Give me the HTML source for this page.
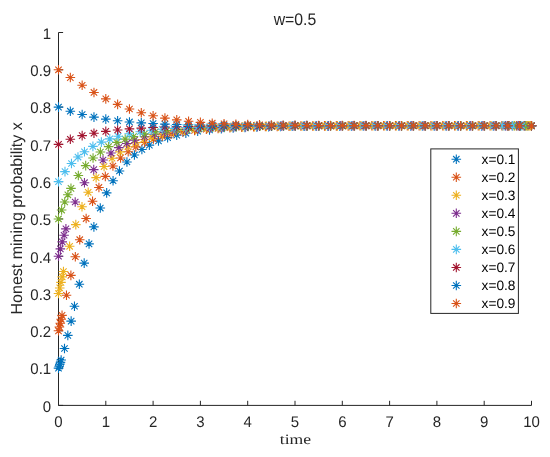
<!DOCTYPE html><html><head><meta charset="utf-8"><title>w=0.5</title><style>html,body{margin:0;padding:0;background:#fff;overflow:hidden}svg{display:block}</style></head><body><svg width="550" height="457" viewBox="0 0 550 457" style="text-rendering:geometricPrecision"><g><rect width="550" height="457" fill="#fff"/><path d="M58.5 32.5V405.4H531.5" stroke="#262626" stroke-width="1" fill="none"/><path d="M58.50 405.4V400.80M58.5 405.40H63.10M105.80 405.4V400.80M58.5 368.11H63.10M153.10 405.4V400.80M58.5 330.82H63.10M200.40 405.4V400.80M58.5 293.53H63.10M247.70 405.4V400.80M58.5 256.24H63.10M295.00 405.4V400.80M58.5 218.95H63.10M342.30 405.4V400.80M58.5 181.66H63.10M389.60 405.4V400.80M58.5 144.37H63.10M436.90 405.4V400.80M58.5 107.08H63.10M484.20 405.4V400.80M58.5 69.79H63.10M531.50 405.4V400.80M58.5 32.50H63.10" stroke="#262626" stroke-width="1" fill="none"/><g fill="none" stroke-width="1.1"><path d="M53.70 368.11H63.30M58.50 363.31V372.91M55.30 364.91L61.70 371.31M55.30 371.31L61.70 364.91M54.37 366.20H63.97M59.17 361.40V371.00M55.97 363.00L62.37 369.40M55.97 369.40L62.37 363.00M55.03 364.22H64.63M59.83 359.42V369.02M56.63 361.02L63.03 367.42M56.63 367.42L63.03 361.02M55.70 362.18H65.30M60.50 357.38V366.98M57.30 358.98L63.70 365.38M57.30 365.38L63.70 358.98M56.36 360.06H65.96M61.16 355.26V364.86M57.96 356.86L64.36 363.26M57.96 363.26L64.36 356.86M59.69 348.49H69.29M64.49 343.69V353.29M61.29 345.29L67.69 351.69M61.29 351.69L67.69 345.29M63.02 335.41H72.62M67.82 330.61V340.21M64.62 332.21L71.02 338.61M64.62 338.61L71.02 332.21M66.35 321.17H75.95M71.15 316.37V325.97M67.95 317.97L74.35 324.37M67.95 324.37L74.35 317.97M69.68 306.22H79.28M74.48 301.42V311.02M71.28 303.02L77.68 309.42M71.28 309.42L77.68 303.02M74.53 284.20H84.13M79.33 279.40V289.00M76.13 281.00L82.53 287.40M76.13 287.40L82.53 281.00M79.39 263.10H88.99M84.19 258.30V267.90M80.99 259.90L87.39 266.30M80.99 266.30L87.39 259.90M84.24 243.84H93.84M89.04 239.04V248.64M85.84 240.64L92.24 247.04M85.84 247.04L92.24 240.64M89.09 226.86H98.69M93.89 222.06V231.66M90.69 223.66L97.09 230.06M90.69 230.06L97.09 223.66M95.48 208.04H105.08M100.28 203.24V212.84M97.08 204.84L103.48 211.24M97.08 211.24L103.48 204.84M101.87 192.85H111.47M106.67 188.05V197.65M103.47 189.65L109.87 196.05M103.47 196.05L109.87 189.65M108.26 180.72H117.86M113.06 175.92V185.52M109.86 177.52L116.26 183.92M109.86 183.92L116.26 177.52M114.65 171.02H124.25M119.45 166.22V175.82M116.25 167.82L122.65 174.22M116.25 174.22L122.65 167.82M122.13 161.98H131.73M126.93 157.18V166.78M123.73 158.78L130.13 165.18M123.73 165.18L130.13 158.78M129.60 154.94H139.20M134.40 150.14V159.74M131.20 151.74L137.60 158.14M131.20 158.14L137.60 151.74M137.08 149.46H146.68M141.88 144.66V154.26M138.68 146.26L145.08 152.66M138.68 152.66L145.08 146.26M144.56 145.10H154.16M149.36 140.30V149.90M146.16 141.90L152.56 148.30M146.16 148.30L152.56 141.90M153.69 140.87H163.29M158.49 136.07V145.67M155.29 137.67L161.69 144.07M155.29 144.07L161.69 137.67M162.81 137.63H172.41M167.61 132.83V142.43M164.41 134.43L170.81 140.83M164.41 140.83L170.81 134.43M171.93 135.15H181.53M176.73 130.35V139.95M173.53 131.95L179.93 138.35M173.53 138.35L179.93 131.95M181.06 133.21H190.66M185.86 128.41V138.01M182.66 130.01L189.06 136.41M182.66 136.41L189.06 130.01M192.88 131.26H202.48M197.68 126.46V136.06M194.48 128.06L200.88 134.46M194.48 134.46L200.88 128.06M204.71 129.84H214.31M209.51 125.04V134.64M206.31 126.64L212.71 133.04M206.31 133.04L212.71 126.64M216.53 128.81H226.13M221.33 124.01V133.61M218.13 125.61L224.53 132.01M218.13 132.01L224.53 125.61M228.36 128.05H237.96M233.16 123.25V132.85M229.96 124.85L236.36 131.25M229.96 131.25L236.36 124.85M240.18 127.46H249.78M244.98 122.66V132.26M241.78 124.26L248.18 130.66M241.78 130.66L248.18 124.26M252.01 127.02H261.61M256.81 122.22V131.82M253.61 123.82L260.01 130.22M253.61 130.22L260.01 123.82M263.83 126.70H273.43M268.63 121.90V131.50M265.43 123.50L271.83 129.90M265.43 129.90L271.83 123.50M275.66 126.46H285.26M280.46 121.66V131.26M277.26 123.26L283.66 129.66M277.26 129.66L283.66 123.26M287.48 126.28H297.08M292.28 121.48V131.08M289.08 123.08L295.48 129.48M289.08 129.48L295.48 123.08M299.31 126.14H308.91M304.11 121.34V130.94M300.91 122.94L307.31 129.34M300.91 129.34L307.31 122.94M311.13 126.04H320.73M315.93 121.24V130.84M312.73 122.84L319.13 129.24M312.73 129.24L319.13 122.84M322.96 125.96H332.56M327.76 121.16V130.76M324.56 122.76L330.96 129.16M324.56 129.16L330.96 122.76M334.78 125.90H344.38M339.58 121.10V130.70M336.38 122.70L342.78 129.10M336.38 129.10L342.78 122.70M346.61 125.86H356.21M351.41 121.06V130.66M348.21 122.66L354.61 129.06M348.21 129.06L354.61 122.66M358.43 125.82H368.03M363.23 121.02V130.62M360.03 122.62L366.43 129.02M360.03 129.02L366.43 122.62M370.26 125.80H379.86M375.06 121.00V130.60M371.86 122.60L378.26 129.00M371.86 129.00L378.26 122.60M382.08 125.78H391.68M386.88 120.98V130.58M383.68 122.58L390.08 128.98M383.68 128.98L390.08 122.58M393.91 125.77H403.51M398.71 120.97V130.57M395.51 122.57L401.91 128.97M395.51 128.97L401.91 122.57M405.73 125.76H415.33M410.53 120.96V130.56M407.33 122.56L413.73 128.96M407.33 128.96L413.73 122.56M417.56 125.75H427.16M422.36 120.95V130.55M419.16 122.55L425.56 128.95M419.16 128.95L425.56 122.55M429.38 125.74H438.98M434.18 120.94V130.54M430.98 122.54L437.38 128.94M430.98 128.94L437.38 122.54M441.21 125.74H450.81M446.01 120.94V130.54M442.81 122.54L449.21 128.94M442.81 128.94L449.21 122.54M453.03 125.74H462.63M457.83 120.94V130.54M454.63 122.54L461.03 128.94M454.63 128.94L461.03 122.54M464.86 125.73H474.46M469.66 120.93V130.53M466.46 122.53L472.86 128.93M466.46 128.93L472.86 122.53M476.68 125.73H486.28M481.48 120.93V130.53M478.28 122.53L484.68 128.93M478.28 128.93L484.68 122.53M488.51 125.73H498.11M493.31 120.93V130.53M490.11 122.53L496.51 128.93M490.11 128.93L496.51 122.53M500.33 125.73H509.93M505.13 120.93V130.53M501.93 122.53L508.33 128.93M501.93 128.93L508.33 122.53M512.16 125.73H521.76M516.96 120.93V130.53M513.76 122.53L520.16 128.93M513.76 128.93L520.16 122.53M515.79 125.73H525.39M520.59 120.93V130.53M517.39 122.53L523.79 128.93M517.39 128.93L523.79 122.53M519.43 125.73H529.03M524.23 120.93V130.53M521.03 122.53L527.43 128.93M521.03 128.93L527.43 122.53M523.06 125.73H532.66M527.86 120.93V130.53M524.66 122.53L531.06 128.93M524.66 128.93L531.06 122.53M526.70 125.73H536.30M531.50 120.93V130.53M528.30 122.53L534.70 128.93M528.30 128.93L534.70 122.53" stroke="#0072BD"/><path d="M53.70 330.82H63.30M58.50 326.02V335.62M55.30 327.62L61.70 334.02M55.30 334.02L61.70 327.62M54.59 327.04H64.19M59.39 322.24V331.84M56.19 323.84L62.59 330.24M56.19 330.24L62.59 323.84M55.47 323.19H65.07M60.27 318.39V327.99M57.07 319.99L63.47 326.39M57.07 326.39L63.47 319.99M56.36 319.29H65.96M61.16 314.49V324.09M57.96 316.09L64.36 322.49M57.96 322.49L64.36 316.09M57.24 315.35H66.84M62.04 310.55V320.15M58.84 312.15L65.24 318.55M58.84 318.55L65.24 312.15M61.67 295.26H71.27M66.47 290.46V300.06M63.27 292.06L69.67 298.46M63.27 298.46L69.67 292.06M66.09 275.41H75.69M70.89 270.61V280.21M67.69 272.21L74.09 278.61M67.69 278.61L74.09 272.21M70.52 256.70H80.12M75.32 251.90V261.50M72.12 253.50L78.52 259.90M72.12 259.90L78.52 253.50M74.95 239.69H84.55M79.75 234.89V244.49M76.55 236.49L82.95 242.89M76.55 242.89L82.95 236.49M81.34 218.54H90.94M86.14 213.74V223.34M82.94 215.34L89.34 221.74M82.94 221.74L89.34 215.34M87.73 201.29H97.33M92.53 196.49V206.09M89.33 198.09L95.73 204.49M89.33 204.49L95.73 198.09M94.12 187.45H103.72M98.92 182.65V192.25M95.72 184.25L102.12 190.65M95.72 190.65L102.12 184.25M100.51 176.41H110.11M105.31 171.61V181.21M102.11 173.21L108.51 179.61M102.11 179.61L108.51 173.21M108.13 165.98H117.73M112.93 161.18V170.78M109.73 162.78L116.13 169.18M109.73 169.18L116.13 162.78M115.76 157.93H125.36M120.56 153.13V162.73M117.36 154.73L123.76 161.13M117.36 161.13L123.76 154.73M123.38 151.74H132.98M128.18 146.94V156.54M124.98 148.54L131.38 154.94M124.98 154.94L131.38 148.54M131.01 146.86H140.61M135.81 142.06V151.66M132.61 143.66L139.01 150.06M132.61 150.06L139.01 143.66M139.83 142.34H149.43M144.63 137.54V147.14M141.43 139.14L147.83 145.54M141.43 145.54L147.83 139.14M148.65 138.87H158.25M153.45 134.07V143.67M150.25 135.67L156.65 142.07M150.25 142.07L156.65 135.67M157.47 136.19H167.07M162.27 131.39V140.99M159.07 132.99L165.47 139.39M159.07 139.39L165.47 132.99M166.29 134.09H175.89M171.09 129.29V138.89M167.89 130.89L174.29 137.29M167.89 137.29L174.29 130.89M178.04 131.92H187.64M182.84 127.12V136.72M179.64 128.72L186.04 135.12M179.64 135.12L186.04 128.72M189.78 130.33H199.38M194.58 125.53V135.13M191.38 127.13L197.78 133.53M191.38 133.53L197.78 127.13M201.52 129.19H211.12M206.32 124.39V133.99M203.12 125.99L209.52 132.39M203.12 132.39L209.52 125.99M213.26 128.34H222.86M218.06 123.54V133.14M214.86 125.14L221.26 131.54M214.86 131.54L221.26 125.14M225.09 127.68H234.69M229.89 122.88V132.48M226.69 124.48L233.09 130.88M226.69 130.88L233.09 124.48M236.91 127.18H246.51M241.71 122.38V131.98M238.51 123.98L244.91 130.38M238.51 130.38L244.91 123.98M248.74 126.82H258.34M253.54 122.02V131.62M250.34 123.62L256.74 130.02M250.34 130.02L256.74 123.62M260.56 126.55H270.16M265.36 121.75V131.35M262.16 123.35L268.56 129.75M262.16 129.75L268.56 123.35M272.39 126.34H281.99M277.19 121.54V131.14M273.99 123.14L280.39 129.54M273.99 129.54L280.39 123.14M284.21 126.19H293.81M289.01 121.39V130.99M285.81 122.99L292.21 129.39M285.81 129.39L292.21 122.99M296.04 126.07H305.64M300.84 121.27V130.87M297.64 122.87L304.04 129.27M297.64 129.27L304.04 122.87M307.86 125.99H317.46M312.66 121.19V130.79M309.46 122.79L315.86 129.19M309.46 129.19L315.86 122.79M319.69 125.92H329.29M324.49 121.12V130.72M321.29 122.72L327.69 129.12M321.29 129.12L327.69 122.72M331.51 125.87H341.11M336.31 121.07V130.67M333.11 122.67L339.51 129.07M333.11 129.07L339.51 122.67M343.34 125.84H352.94M348.14 121.04V130.64M344.94 122.64L351.34 129.04M344.94 129.04L351.34 122.64M355.16 125.81H364.76M359.96 121.01V130.61M356.76 122.61L363.16 129.01M356.76 129.01L363.16 122.61M366.99 125.79H376.59M371.79 120.99V130.59M368.59 122.59L374.99 128.99M368.59 128.99L374.99 122.59M378.81 125.77H388.41M383.61 120.97V130.57M380.41 122.57L386.81 128.97M380.41 128.97L386.81 122.57M390.64 125.76H400.24M395.44 120.96V130.56M392.24 122.56L398.64 128.96M392.24 128.96L398.64 122.56M402.46 125.75H412.06M407.26 120.95V130.55M404.06 122.55L410.46 128.95M404.06 128.95L410.46 122.55M414.29 125.75H423.89M419.09 120.95V130.55M415.89 122.55L422.29 128.95M415.89 128.95L422.29 122.55M426.11 125.74H435.71M430.91 120.94V130.54M427.71 122.54L434.11 128.94M427.71 128.94L434.11 122.54M437.94 125.74H447.54M442.74 120.94V130.54M439.54 122.54L445.94 128.94M439.54 128.94L445.94 122.54M449.76 125.73H459.36M454.56 120.93V130.53M451.36 122.53L457.76 128.93M451.36 128.93L457.76 122.53M461.59 125.73H471.19M466.39 120.93V130.53M463.19 122.53L469.59 128.93M463.19 128.93L469.59 122.53M473.41 125.73H483.01M478.21 120.93V130.53M475.01 122.53L481.41 128.93M475.01 128.93L481.41 122.53M485.24 125.73H494.84M490.04 120.93V130.53M486.84 122.53L493.24 128.93M486.84 128.93L493.24 122.53M497.06 125.73H506.66M501.86 120.93V130.53M498.66 122.53L505.06 128.93M498.66 128.93L505.06 122.53M504.47 125.73H514.07M509.27 120.93V130.53M506.07 122.53L512.47 128.93M506.07 128.93L512.47 122.53M511.88 125.73H521.48M516.68 120.93V130.53M513.48 122.53L519.88 128.93M513.48 128.93L519.88 122.53M519.29 125.73H528.89M524.09 120.93V130.53M520.89 122.53L527.29 128.93M520.89 128.93L527.29 122.53M526.70 125.73H536.30M531.50 120.93V130.53M528.30 122.53L534.70 128.93M528.30 128.93L534.70 122.53" stroke="#D95319"/><path d="M53.70 293.53H63.30M58.50 288.73V298.33M55.30 290.33L61.70 296.73M55.30 296.73L61.70 290.33M54.94 287.93H64.54M59.74 283.13V292.73M56.54 284.73L62.94 291.13M56.54 291.13L62.94 284.73M56.17 282.37H65.77M60.97 277.57V287.17M57.77 279.17L64.17 285.57M57.77 285.57L64.17 279.17M57.41 276.89H67.01M62.21 272.09V281.69M59.01 273.69L65.41 280.09M59.01 280.09L65.41 273.69M58.65 271.49H68.25M63.45 266.69V276.29M60.25 268.29L66.65 274.69M60.25 274.69L66.65 268.29M64.83 246.30H74.43M69.63 241.50V251.10M66.43 243.10L72.83 249.50M66.43 249.50L72.83 243.10M71.01 224.65H80.61M75.81 219.85V229.45M72.61 221.45L79.01 227.85M72.61 227.85L79.01 221.45M77.20 206.76H86.80M82.00 201.96V211.56M78.80 203.56L85.20 209.96M78.80 209.96L85.20 203.56M83.38 192.29H92.98M88.18 187.49V197.09M84.98 189.09L91.38 195.49M84.98 195.49L91.38 189.09M91.32 177.63H100.92M96.12 172.83V182.43M92.92 174.43L99.32 180.83M92.92 180.83L99.32 174.43M99.26 166.56H108.86M104.06 161.76V171.36M100.86 163.36L107.26 169.76M100.86 169.76L107.26 163.36M107.20 158.28H116.80M112.00 153.48V163.08M108.80 155.08L115.20 161.48M108.80 161.48L115.20 155.08M115.14 151.87H124.74M119.94 147.07V156.67M116.74 148.67L123.14 155.07M116.74 155.07L123.14 148.67M123.09 146.69H132.69M127.89 141.89V151.49M124.69 143.49L131.09 149.89M124.69 149.89L131.09 143.49M131.03 142.62H140.63M135.83 137.82V147.42M132.63 139.42L139.03 145.82M132.63 145.82L139.03 139.42M138.97 139.43H148.57M143.77 134.63V144.23M140.57 136.23L146.97 142.63M140.57 142.63L146.97 136.23M146.91 136.87H156.51M151.71 132.07V141.67M148.51 133.67L154.91 140.07M148.51 140.07L154.91 133.67M157.86 134.11H167.46M162.66 129.31V138.91M159.46 130.91L165.86 137.31M159.46 137.31L165.86 130.91M168.81 132.07H178.41M173.61 127.27V136.87M170.41 128.87L176.81 135.27M170.41 135.27L176.81 128.87M179.76 130.57H189.36M184.56 125.77V135.37M181.36 127.37L187.76 133.77M181.36 133.77L187.76 127.37M190.71 129.44H200.31M195.51 124.64V134.24M192.31 126.24L198.71 132.64M192.31 132.64L198.71 126.24M202.54 128.49H212.14M207.34 123.69V133.29M204.14 125.29L210.54 131.69M204.14 131.69L210.54 125.29M214.36 127.79H223.96M219.16 122.99V132.59M215.96 124.59L222.36 130.99M215.96 130.99L222.36 124.59M226.19 127.28H235.79M230.99 122.48V132.08M227.79 124.08L234.19 130.48M227.79 130.48L234.19 124.08M238.01 126.90H247.61M242.81 122.10V131.70M239.61 123.70L246.01 130.10M239.61 130.10L246.01 123.70M249.84 126.60H259.44M254.64 121.80V131.40M251.44 123.40L257.84 129.80M251.44 129.80L257.84 123.40M261.66 126.38H271.26M266.46 121.58V131.18M263.26 123.18L269.66 129.58M263.26 129.58L269.66 123.18M273.49 126.22H283.09M278.29 121.42V131.02M275.09 123.02L281.49 129.42M275.09 129.42L281.49 123.02M285.31 126.10H294.91M290.11 121.30V130.90M286.91 122.90L293.31 129.30M286.91 129.30L293.31 122.90M297.14 126.00H306.74M301.94 121.20V130.80M298.74 122.80L305.14 129.20M298.74 129.20L305.14 122.80M308.96 125.93H318.56M313.76 121.13V130.73M310.56 122.73L316.96 129.13M310.56 129.13L316.96 122.73M320.79 125.88H330.39M325.59 121.08V130.68M322.39 122.68L328.79 129.08M322.39 129.08L328.79 122.68M332.61 125.84H342.21M337.41 121.04V130.64M334.21 122.64L340.61 129.04M334.21 129.04L340.61 122.64M344.44 125.81H354.04M349.24 121.01V130.61M346.04 122.61L352.44 129.01M346.04 129.01L352.44 122.61M356.26 125.79H365.86M361.06 120.99V130.59M357.86 122.59L364.26 128.99M357.86 128.99L364.26 122.59M368.09 125.78H377.69M372.89 120.98V130.58M369.69 122.58L376.09 128.98M369.69 128.98L376.09 122.58M379.91 125.76H389.51M384.71 120.96V130.56M381.51 122.56L387.91 128.96M381.51 128.96L387.91 122.56M391.74 125.75H401.34M396.54 120.95V130.55M393.34 122.55L399.74 128.95M393.34 128.95L399.74 122.55M403.56 125.75H413.16M408.36 120.95V130.55M405.16 122.55L411.56 128.95M405.16 128.95L411.56 122.55M415.39 125.74H424.99M420.19 120.94V130.54M416.99 122.54L423.39 128.94M416.99 128.94L423.39 122.54M427.21 125.74H436.81M432.01 120.94V130.54M428.81 122.54L435.21 128.94M428.81 128.94L435.21 122.54M439.04 125.73H448.64M443.84 120.93V130.53M440.64 122.53L447.04 128.93M440.64 128.93L447.04 122.53M450.86 125.73H460.46M455.66 120.93V130.53M452.46 122.53L458.86 128.93M452.46 128.93L458.86 122.53M462.69 125.73H472.29M467.49 120.93V130.53M464.29 122.53L470.69 128.93M464.29 128.93L470.69 122.53M474.51 125.73H484.11M479.31 120.93V130.53M476.11 122.53L482.51 128.93M476.11 128.93L482.51 122.53M486.34 125.73H495.94M491.14 120.93V130.53M487.94 122.53L494.34 128.93M487.94 128.93L494.34 122.53M498.16 125.73H507.76M502.96 120.93V130.53M499.76 122.53L506.16 128.93M499.76 128.93L506.16 122.53M509.99 125.73H519.59M514.79 120.93V130.53M511.59 122.53L517.99 128.93M511.59 128.93L517.99 122.53M521.81 125.73H531.41M526.61 120.93V130.53M523.41 122.53L529.81 128.93M523.41 128.93L529.81 122.53M523.03 125.73H532.63M527.83 120.93V130.53M524.63 122.53L531.03 128.93M524.63 128.93L531.03 122.53M524.26 125.73H533.86M529.06 120.93V130.53M525.86 122.53L532.26 128.93M525.86 128.93L532.26 122.53M525.48 125.73H535.08M530.28 120.93V130.53M527.08 122.53L533.48 128.93M527.08 128.93L533.48 122.53M526.70 125.73H536.30M531.50 120.93V130.53M528.30 122.53L534.70 128.93M528.30 128.93L534.70 122.53" stroke="#EDB120"/><path d="M53.70 256.24H63.30M58.50 251.44V261.04M55.30 253.04L61.70 259.44M55.30 259.44L61.70 253.04M55.55 248.90H65.15M60.35 244.10V253.70M57.15 245.70L63.55 252.10M57.15 252.10L63.55 245.70M57.41 241.89H67.01M62.21 237.09V246.69M59.01 238.69L65.41 245.09M59.01 245.09L65.41 238.69M59.26 235.22H68.86M64.06 230.42V240.02M60.86 232.02L67.26 238.42M60.86 238.42L67.26 232.02M61.12 228.90H70.72M65.92 224.10V233.70M62.72 225.70L69.12 232.10M62.72 232.10L69.12 225.70M70.39 202.00H79.99M75.19 197.20V206.80M71.99 198.80L78.39 205.20M71.99 205.20L78.39 198.80M79.67 182.69H89.27M84.47 177.89V187.49M81.27 179.49L87.67 185.89M81.27 185.89L87.67 179.49M88.94 169.62H98.54M93.74 164.82V174.42M90.54 166.42L96.94 172.82M90.54 172.82L96.94 166.42M98.22 159.99H107.82M103.02 155.19V164.79M99.82 156.79L106.22 163.19M99.82 163.19L106.22 156.79M106.12 153.04H115.72M110.92 148.24V157.84M107.72 149.84L114.12 156.24M107.72 156.24L114.12 149.84M114.01 147.64H123.61M118.81 142.84V152.44M115.61 144.44L122.01 150.84M115.61 150.84L122.01 144.44M121.91 143.44H131.51M126.71 138.64V148.24M123.51 140.24L129.91 146.64M123.51 146.64L129.91 140.24M129.80 140.11H139.40M134.60 135.31V144.91M131.40 136.91L137.80 143.31M131.40 143.31L137.80 136.91M139.83 136.76H149.43M144.63 131.96V141.56M141.43 133.56L147.83 139.96M141.43 139.96L147.83 133.56M149.86 134.24H159.46M154.66 129.44V139.04M151.46 131.04L157.86 137.44M151.46 137.44L157.86 131.04M159.89 132.35H169.49M164.69 127.55V137.15M161.49 129.15L167.89 135.55M161.49 135.55L167.89 129.15M169.92 130.90H179.52M174.72 126.10V135.70M171.52 127.70L177.92 134.10M171.52 134.10L177.92 127.70M181.75 129.57H191.35M186.55 124.77V134.37M183.35 126.37L189.75 132.77M183.35 132.77L189.75 126.37M193.57 128.59H203.17M198.37 123.79V133.39M195.17 125.39L201.57 131.79M195.17 131.79L201.57 125.39M205.40 127.87H215.00M210.20 123.07V132.67M207.00 124.67L213.40 131.07M207.00 131.07L213.40 124.67M217.22 127.35H226.82M222.02 122.55V132.15M218.82 124.15L225.22 130.55M218.82 130.55L225.22 124.15M229.05 126.94H238.65M233.85 122.14V131.74M230.65 123.74L237.05 130.14M230.65 130.14L237.05 123.74M240.87 126.63H250.47M245.67 121.83V131.43M242.47 123.43L248.87 129.83M242.47 129.83L248.87 123.43M252.70 126.41H262.30M257.50 121.61V131.21M254.30 123.21L260.70 129.61M254.30 129.61L260.70 123.21M264.52 126.24H274.12M269.32 121.44V131.04M266.12 123.04L272.52 129.44M266.12 129.44L272.52 123.04M276.35 126.11H285.95M281.15 121.31V130.91M277.95 122.91L284.35 129.31M277.95 129.31L284.35 122.91M288.17 126.01H297.77M292.97 121.21V130.81M289.77 122.81L296.17 129.21M289.77 129.21L296.17 122.81M300.00 125.94H309.60M304.80 121.14V130.74M301.60 122.74L308.00 129.14M301.60 129.14L308.00 122.74M311.82 125.89H321.42M316.62 121.09V130.69M313.42 122.69L319.82 129.09M313.42 129.09L319.82 122.69M323.65 125.85H333.25M328.45 121.05V130.65M325.25 122.65L331.65 129.05M325.25 129.05L331.65 122.65M335.47 125.82H345.07M340.27 121.02V130.62M337.07 122.62L343.47 129.02M337.07 129.02L343.47 122.62M347.30 125.79H356.90M352.10 120.99V130.59M348.90 122.59L355.30 128.99M348.90 128.99L355.30 122.59M359.12 125.78H368.72M363.92 120.98V130.58M360.72 122.58L367.12 128.98M360.72 128.98L367.12 122.58M370.95 125.76H380.55M375.75 120.96V130.56M372.55 122.56L378.95 128.96M372.55 128.96L378.95 122.56M382.77 125.75H392.37M387.57 120.95V130.55M384.37 122.55L390.77 128.95M384.37 128.95L390.77 122.55M394.60 125.75H404.20M399.40 120.95V130.55M396.20 122.55L402.60 128.95M396.20 128.95L402.60 122.55M406.42 125.74H416.02M411.22 120.94V130.54M408.02 122.54L414.42 128.94M408.02 128.94L414.42 122.54M418.25 125.74H427.85M423.05 120.94V130.54M419.85 122.54L426.25 128.94M419.85 128.94L426.25 122.54M430.07 125.73H439.67M434.87 120.93V130.53M431.67 122.53L438.07 128.93M431.67 128.93L438.07 122.53M441.90 125.73H451.50M446.70 120.93V130.53M443.50 122.53L449.90 128.93M443.50 128.93L449.90 122.53M453.72 125.73H463.32M458.52 120.93V130.53M455.32 122.53L461.72 128.93M455.32 128.93L461.72 122.53M465.55 125.73H475.15M470.35 120.93V130.53M467.15 122.53L473.55 128.93M467.15 128.93L473.55 122.53M477.37 125.73H486.97M482.17 120.93V130.53M478.97 122.53L485.37 128.93M478.97 128.93L485.37 122.53M489.20 125.73H498.80M494.00 120.93V130.53M490.80 122.53L497.20 128.93M490.80 128.93L497.20 122.53M501.02 125.73H510.62M505.82 120.93V130.53M502.62 122.53L509.02 128.93M502.62 128.93L509.02 122.53M507.44 125.73H517.04M512.24 120.93V130.53M509.04 122.53L515.44 128.93M509.04 128.93L515.44 122.53M513.86 125.73H523.46M518.66 120.93V130.53M515.46 122.53L521.86 128.93M515.46 128.93L521.86 122.53M520.28 125.73H529.88M525.08 120.93V130.53M521.88 122.53L528.28 128.93M521.88 128.93L528.28 122.53M526.70 125.73H536.30M531.50 120.93V130.53M528.30 122.53L534.70 128.93M528.30 128.93L534.70 122.53" stroke="#7E2F8E"/><path d="M53.70 218.95H63.30M58.50 214.15V223.75M55.30 215.75L61.70 222.15M55.30 222.15L61.70 215.75M56.82 210.05H66.42M61.62 205.25V214.85M58.42 206.85L64.82 213.25M58.42 213.25L64.82 206.85M59.93 202.02H69.53M64.73 197.22V206.82M61.53 198.82L67.93 205.22M61.53 205.22L67.93 198.82M63.05 194.81H72.65M67.85 190.01V199.61M64.65 191.61L71.05 198.01M64.65 198.01L71.05 191.61M66.17 188.35H75.77M70.97 183.55V193.15M67.77 185.15L74.17 191.55M67.77 191.55L74.17 185.15M73.53 175.55H83.13M78.33 170.75V180.35M75.13 172.35L81.53 178.75M75.13 178.75L81.53 172.35M80.89 165.65H90.49M85.69 160.85V170.45M82.49 162.45L88.89 168.85M82.49 168.85L88.89 162.45M88.25 158.02H97.85M93.05 153.22V162.82M89.85 154.82L96.25 161.22M89.85 161.22L96.25 154.82M95.61 152.01H105.21M100.41 147.21V156.81M97.21 148.81L103.61 155.21M97.21 155.21L103.61 148.81M103.87 146.61H113.47M108.67 141.81V151.41M105.47 143.41L111.87 149.81M105.47 149.81L111.87 143.41M112.13 142.42H121.73M116.93 137.62V147.22M113.73 139.22L120.13 145.62M113.73 145.62L120.13 139.22M120.39 139.16H129.99M125.19 134.36V143.96M121.99 135.96L128.39 142.36M121.99 142.36L128.39 135.96M128.64 136.58H138.24M133.44 131.78V141.38M130.24 133.38L136.64 139.78M130.24 139.78L136.64 133.38M139.59 133.89H149.19M144.39 129.09V138.69M141.19 130.69L147.59 137.09M141.19 137.09L147.59 130.69M150.54 131.90H160.14M155.34 127.10V136.70M152.14 128.70L158.54 135.10M152.14 135.10L158.54 128.70M161.48 130.45H171.08M166.28 125.65V135.25M163.08 127.25L169.48 133.65M163.08 133.65L169.48 127.25M172.43 129.35H182.03M177.23 124.55V134.15M174.03 126.15L180.43 132.55M174.03 132.55L180.43 126.15M184.26 128.42H193.86M189.06 123.62V133.22M185.86 125.22L192.26 131.62M185.86 131.62L192.26 125.22M196.08 127.74H205.68M200.88 122.94V132.54M197.68 124.54L204.08 130.94M197.68 130.94L204.08 124.54M207.91 127.24H217.51M212.71 122.44V132.04M209.51 124.04L215.91 130.44M209.51 130.44L215.91 124.04M219.73 126.87H229.33M224.53 122.07V131.67M221.33 123.67L227.73 130.07M221.33 130.07L227.73 123.67M231.56 126.58H241.16M236.36 121.78V131.38M233.16 123.38L239.56 129.78M233.16 129.78L239.56 123.38M243.38 126.36H252.98M248.18 121.56V131.16M244.98 123.16L251.38 129.56M244.98 129.56L251.38 123.16M255.21 126.21H264.81M260.01 121.41V131.01M256.81 123.01L263.21 129.41M256.81 129.41L263.21 123.01M267.03 126.09H276.63M271.83 121.29V130.89M268.63 122.89L275.03 129.29M268.63 129.29L275.03 122.89M278.86 126.00H288.46M283.66 121.20V130.80M280.46 122.80L286.86 129.20M280.46 129.20L286.86 122.80M290.68 125.93H300.28M295.48 121.13V130.73M292.28 122.73L298.68 129.13M292.28 129.13L298.68 122.73M302.51 125.88H312.11M307.31 121.08V130.68M304.11 122.68L310.51 129.08M304.11 129.08L310.51 122.68M314.33 125.84H323.93M319.13 121.04V130.64M315.93 122.64L322.33 129.04M315.93 129.04L322.33 122.64M326.16 125.81H335.76M330.96 121.01V130.61M327.76 122.61L334.16 129.01M327.76 129.01L334.16 122.61M337.98 125.79H347.58M342.78 120.99V130.59M339.58 122.59L345.98 128.99M339.58 128.99L345.98 122.59M349.81 125.77H359.41M354.61 120.97V130.57M351.41 122.57L357.81 128.97M351.41 128.97L357.81 122.57M361.63 125.76H371.23M366.43 120.96V130.56M363.23 122.56L369.63 128.96M363.23 128.96L369.63 122.56M373.46 125.75H383.06M378.26 120.95V130.55M375.06 122.55L381.46 128.95M375.06 128.95L381.46 122.55M385.28 125.75H394.88M390.08 120.95V130.55M386.88 122.55L393.28 128.95M386.88 128.95L393.28 122.55M397.11 125.74H406.71M401.91 120.94V130.54M398.71 122.54L405.11 128.94M398.71 128.94L405.11 122.54M408.93 125.74H418.53M413.73 120.94V130.54M410.53 122.54L416.93 128.94M410.53 128.94L416.93 122.54M420.76 125.73H430.36M425.56 120.93V130.53M422.36 122.53L428.76 128.93M422.36 128.93L428.76 122.53M432.58 125.73H442.18M437.38 120.93V130.53M434.18 122.53L440.58 128.93M434.18 128.93L440.58 122.53M444.41 125.73H454.01M449.21 120.93V130.53M446.01 122.53L452.41 128.93M446.01 128.93L452.41 122.53M456.23 125.73H465.83M461.03 120.93V130.53M457.83 122.53L464.23 128.93M457.83 128.93L464.23 122.53M468.06 125.73H477.66M472.86 120.93V130.53M469.66 122.53L476.06 128.93M469.66 128.93L476.06 122.53M479.88 125.73H489.48M484.68 120.93V130.53M481.48 122.53L487.88 128.93M481.48 128.93L487.88 122.53M491.71 125.73H501.31M496.51 120.93V130.53M493.31 122.53L499.71 128.93M493.31 128.93L499.71 122.53M503.53 125.73H513.13M508.33 120.93V130.53M505.13 122.53L511.53 128.93M505.13 128.93L511.53 122.53M509.32 125.73H518.92M514.12 120.93V130.53M510.92 122.53L517.32 128.93M510.92 128.93L517.32 122.53M515.12 125.73H524.72M519.92 120.93V130.53M516.72 122.53L523.12 128.93M516.72 128.93L523.12 122.53M520.91 125.73H530.51M525.71 120.93V130.53M522.51 122.53L528.91 128.93M522.51 128.93L528.91 122.53M526.70 125.73H536.30M531.50 120.93V130.53M528.30 122.53L534.70 128.93M528.30 128.93L534.70 122.53" stroke="#77AC30"/><path d="M53.70 181.66H63.30M58.50 176.86V186.46M55.30 178.46L61.70 184.86M55.30 184.86L61.70 178.46M60.19 171.58H69.79M64.99 166.78V176.38M61.79 168.38L68.19 174.78M61.79 174.78L68.19 168.38M66.68 163.51H76.28M71.48 158.71V168.31M68.28 160.31L74.68 166.71M68.28 166.71L74.68 160.31M73.18 157.05H82.78M77.98 152.25V161.85M74.78 153.85L81.18 160.25M74.78 160.25L81.18 153.85M79.67 151.81H89.27M84.47 147.01V156.61M81.27 148.61L87.67 155.01M81.27 155.01L87.67 148.61M88.11 146.35H97.71M92.91 141.55V151.15M89.71 143.15L96.11 149.55M89.71 149.55L96.11 143.15M96.56 142.13H106.16M101.36 137.33V146.93M98.16 138.93L104.56 145.33M98.16 145.33L104.56 138.93M105.00 138.87H114.60M109.80 134.07V143.67M106.60 135.67L113.00 142.07M106.60 142.07L113.00 135.67M113.44 136.30H123.04M118.24 131.50V141.10M115.04 133.10L121.44 139.50M115.04 139.50L121.44 133.10M124.43 133.68H134.03M129.23 128.88V138.48M126.03 130.48L132.43 136.88M126.03 136.88L132.43 130.48M135.41 131.74H145.01M140.21 126.94V136.54M137.01 128.54L143.41 134.94M137.01 134.94L143.41 128.54M146.39 130.32H155.99M151.19 125.52V135.12M147.99 127.12L154.39 133.52M147.99 133.52L154.39 127.12M157.38 129.25H166.98M162.18 124.45V134.05M158.98 126.05L165.38 132.45M158.98 132.45L165.38 126.05M169.20 128.35H178.80M174.00 123.55V133.15M170.80 125.15L177.20 131.55M170.80 131.55L177.20 125.15M181.03 127.68H190.63M185.83 122.88V132.48M182.63 124.48L189.03 130.88M182.63 130.88L189.03 124.48M192.85 127.20H202.45M197.65 122.40V132.00M194.45 124.00L200.85 130.40M194.45 130.40L200.85 124.00M204.68 126.83H214.28M209.48 122.03V131.63M206.28 123.63L212.68 130.03M206.28 130.03L212.68 123.63M216.50 126.56H226.10M221.30 121.76V131.36M218.10 123.36L224.50 129.76M218.10 129.76L224.50 123.36M228.33 126.35H237.93M233.13 121.55V131.15M229.93 123.15L236.33 129.55M229.93 129.55L236.33 123.15M240.15 126.19H249.75M244.95 121.39V130.99M241.75 122.99L248.15 129.39M241.75 129.39L248.15 122.99M251.98 126.08H261.58M256.78 121.28V130.88M253.58 122.88L259.98 129.28M253.58 129.28L259.98 122.88M263.80 125.99H273.40M268.60 121.19V130.79M265.40 122.79L271.80 129.19M265.40 129.19L271.80 122.79M275.63 125.92H285.23M280.43 121.12V130.72M277.23 122.72L283.63 129.12M277.23 129.12L283.63 122.72M287.45 125.87H297.05M292.25 121.07V130.67M289.05 122.67L295.45 129.07M289.05 129.07L295.45 122.67M299.28 125.84H308.88M304.08 121.04V130.64M300.88 122.64L307.28 129.04M300.88 129.04L307.28 122.64M311.10 125.81H320.70M315.90 121.01V130.61M312.70 122.61L319.10 129.01M312.70 129.01L319.10 122.61M322.93 125.79H332.53M327.73 120.99V130.59M324.53 122.59L330.93 128.99M324.53 128.99L330.93 122.59M334.75 125.77H344.35M339.55 120.97V130.57M336.35 122.57L342.75 128.97M336.35 128.97L342.75 122.57M346.58 125.76H356.18M351.38 120.96V130.56M348.18 122.56L354.58 128.96M348.18 128.96L354.58 122.56M358.40 125.75H368.00M363.20 120.95V130.55M360.00 122.55L366.40 128.95M360.00 128.95L366.40 122.55M370.23 125.75H379.83M375.03 120.95V130.55M371.83 122.55L378.23 128.95M371.83 128.95L378.23 122.55M382.05 125.74H391.65M386.85 120.94V130.54M383.65 122.54L390.05 128.94M383.65 128.94L390.05 122.54M393.88 125.74H403.48M398.68 120.94V130.54M395.48 122.54L401.88 128.94M395.48 128.94L401.88 122.54M405.70 125.73H415.30M410.50 120.93V130.53M407.30 122.53L413.70 128.93M407.30 128.93L413.70 122.53M417.53 125.73H427.13M422.33 120.93V130.53M419.13 122.53L425.53 128.93M419.13 128.93L425.53 122.53M429.35 125.73H438.95M434.15 120.93V130.53M430.95 122.53L437.35 128.93M430.95 128.93L437.35 122.53M441.18 125.73H450.78M445.98 120.93V130.53M442.78 122.53L449.18 128.93M442.78 128.93L449.18 122.53M453.00 125.73H462.60M457.80 120.93V130.53M454.60 122.53L461.00 128.93M454.60 128.93L461.00 122.53M464.83 125.73H474.43M469.63 120.93V130.53M466.43 122.53L472.83 128.93M466.43 128.93L472.83 122.53M476.65 125.73H486.25M481.45 120.93V130.53M478.25 122.53L484.65 128.93M478.25 128.93L484.65 122.53M488.48 125.73H498.08M493.28 120.93V130.53M490.08 122.53L496.48 128.93M490.08 128.93L496.48 122.53M498.03 125.73H507.63M502.83 120.93V130.53M499.63 122.53L506.03 128.93M499.63 128.93L506.03 122.53M507.59 125.73H517.19M512.39 120.93V130.53M509.19 122.53L515.59 128.93M509.19 128.93L515.59 122.53M517.14 125.73H526.74M521.94 120.93V130.53M518.74 122.53L525.14 128.93M518.74 128.93L525.14 122.53M526.70 125.73H536.30M531.50 120.93V130.53M528.30 122.53L534.70 128.93M528.30 128.93L534.70 122.53" stroke="#4DBEEE"/><path d="M53.70 144.37H63.30M58.50 139.57V149.17M55.30 141.17L61.70 147.57M55.30 147.57L61.70 141.17M65.53 139.25H75.12M70.33 134.45V144.05M67.12 136.05L73.53 142.45M67.12 142.45L73.53 136.05M77.35 135.64H86.95M82.15 130.84V140.44M78.95 132.44L85.35 138.84M78.95 138.84L85.35 132.44M89.17 133.20H98.77M93.97 128.40V138.00M90.77 130.00L97.17 136.40M90.77 136.40L97.17 130.00M101.00 131.39H110.60M105.80 126.59V136.19M102.60 128.19L109.00 134.59M102.60 134.59L109.00 128.19M112.83 129.93H122.42M117.62 125.13V134.73M114.42 126.73L120.83 133.13M114.42 133.13L120.83 126.73M124.65 128.86H134.25M129.45 124.06V133.66M126.25 125.66L132.65 132.06M126.25 132.06L132.65 125.66M136.47 128.08H146.08M141.28 123.28V132.88M138.08 124.88L144.47 131.28M138.08 131.28L144.47 124.88M148.30 127.50H157.90M153.10 122.70V132.30M149.90 124.30L156.30 130.70M149.90 130.70L156.30 124.30M160.12 127.05H169.73M164.93 122.25V131.85M161.73 123.85L168.12 130.25M161.73 130.25L168.12 123.85M171.95 126.72H181.55M176.75 121.92V131.52M173.55 123.52L179.95 129.92M173.55 129.92L179.95 123.52M183.77 126.47H193.38M188.57 121.67V131.27M185.38 123.27L191.77 129.67M185.38 129.67L191.77 123.27M195.60 126.29H205.20M200.40 121.49V131.09M197.20 123.09L203.60 129.49M197.20 129.49L203.60 123.09M207.42 126.15H217.03M212.22 121.35V130.95M209.03 122.95L215.42 129.35M209.03 129.35L215.42 122.95M219.25 126.04H228.85M224.05 121.24V130.84M220.85 122.84L227.25 129.24M220.85 129.24L227.25 122.84M231.07 125.96H240.68M235.88 121.16V130.76M232.68 122.76L239.07 129.16M232.68 129.16L239.07 122.76M242.90 125.90H252.50M247.70 121.10V130.70M244.50 122.70L250.90 129.10M244.50 129.10L250.90 122.70M254.72 125.86H264.32M259.52 121.06V130.66M256.32 122.66L262.72 129.06M256.32 129.06L262.72 122.66M266.55 125.83H276.15M271.35 121.03V130.63M268.15 122.63L274.55 129.03M268.15 129.03L274.55 122.63M278.38 125.80H287.98M283.18 121.00V130.60M279.98 122.60L286.38 129.00M279.98 129.00L286.38 122.60M290.20 125.78H299.80M295.00 120.98V130.58M291.80 122.58L298.20 128.98M291.80 128.98L298.20 122.58M302.02 125.77H311.62M306.82 120.97V130.57M303.62 122.57L310.02 128.97M303.62 128.97L310.02 122.57M313.85 125.76H323.45M318.65 120.96V130.56M315.45 122.56L321.85 128.96M315.45 128.96L321.85 122.56M325.68 125.75H335.28M330.48 120.95V130.55M327.28 122.55L333.68 128.95M327.28 128.95L333.68 122.55M337.50 125.74H347.10M342.30 120.94V130.54M339.10 122.54L345.50 128.94M339.10 128.94L345.50 122.54M349.32 125.74H358.93M354.12 120.94V130.54M350.93 122.54L357.32 128.94M350.93 128.94L357.32 122.54M361.15 125.74H370.75M365.95 120.94V130.54M362.75 122.54L369.15 128.94M362.75 128.94L369.15 122.54M372.97 125.73H382.57M377.77 120.93V130.53M374.57 122.53L380.97 128.93M374.57 128.93L380.97 122.53M384.80 125.73H394.40M389.60 120.93V130.53M386.40 122.53L392.80 128.93M386.40 128.93L392.80 122.53M396.62 125.73H406.23M401.43 120.93V130.53M398.23 122.53L404.62 128.93M398.23 128.93L404.62 122.53M408.45 125.73H418.05M413.25 120.93V130.53M410.05 122.53L416.45 128.93M410.05 128.93L416.45 122.53M420.27 125.73H429.88M425.07 120.93V130.53M421.88 122.53L428.27 128.93M421.88 128.93L428.27 122.53M432.10 125.73H441.70M436.90 120.93V130.53M433.70 122.53L440.10 128.93M433.70 128.93L440.10 122.53M443.93 125.73H453.53M448.73 120.93V130.53M445.53 122.53L451.93 128.93M445.53 128.93L451.93 122.53M455.75 125.73H465.35M460.55 120.93V130.53M457.35 122.53L463.75 128.93M457.35 128.93L463.75 122.53M467.57 125.73H477.18M472.38 120.93V130.53M469.18 122.53L475.57 128.93M469.18 128.93L475.57 122.53M479.40 125.73H489.00M484.20 120.93V130.53M481.00 122.53L487.40 128.93M481.00 128.93L487.40 122.53M491.22 125.73H500.82M496.02 120.93V130.53M492.82 122.53L499.22 128.93M492.82 128.93L499.22 122.53M503.05 125.73H512.65M507.85 120.93V130.53M504.65 122.53L511.05 128.93M504.65 128.93L511.05 122.53M514.88 125.73H524.47M519.67 120.93V130.53M516.47 122.53L522.88 128.93M516.47 128.93L522.88 122.53M526.70 125.73H536.30M531.50 120.93V130.53M528.30 122.53L534.70 128.93M528.30 128.93L534.70 122.53" stroke="#A2142F"/><path d="M53.70 107.08H63.30M58.50 102.28V111.88M55.30 103.88L61.70 110.28M55.30 110.28L61.70 103.88M65.53 111.20H75.12M70.33 106.40V116.00M67.12 108.00L73.53 114.40M67.12 114.40L73.53 108.00M77.35 114.51H86.95M82.15 109.71V119.31M78.95 111.31L85.35 117.71M78.95 117.71L85.35 111.31M89.17 117.12H98.77M93.97 112.32V121.92M90.77 113.92L97.17 120.32M90.77 120.32L97.17 113.92M101.00 119.15H110.60M105.80 114.35V123.95M102.60 115.95L109.00 122.35M102.60 122.35L109.00 115.95M112.83 120.73H122.42M117.62 115.93V125.53M114.42 117.53L120.83 123.93M114.42 123.93L120.83 117.53M124.65 121.94H134.25M129.45 117.14V126.74M126.25 118.74L132.65 125.14M126.25 125.14L132.65 118.74M136.47 122.86H146.08M141.28 118.06V127.66M138.08 119.66L144.47 126.06M138.08 126.06L144.47 119.66M148.30 123.56H157.90M153.10 118.76V128.36M149.90 120.36L156.30 126.76M149.90 126.76L156.30 120.36M160.12 124.09H169.73M164.93 119.29V128.89M161.73 120.89L168.12 127.29M161.73 127.29L168.12 120.89M171.95 124.50H181.55M176.75 119.70V129.30M173.55 121.30L179.95 127.70M173.55 127.70L179.95 121.30M183.77 124.80H193.38M188.57 120.00V129.60M185.38 121.60L191.77 128.00M185.38 128.00L191.77 121.60M195.60 125.03H205.20M200.40 120.23V129.83M197.20 121.83L203.60 128.23M197.20 128.23L203.60 121.83M207.42 125.20H217.03M212.22 120.40V130.00M209.03 122.00L215.42 128.40M209.03 128.40L215.42 122.00M219.25 125.33H228.85M224.05 120.53V130.13M220.85 122.13L227.25 128.53M220.85 128.53L227.25 122.13M231.07 125.43H240.68M235.88 120.63V130.23M232.68 122.23L239.07 128.63M232.68 128.63L239.07 122.23M242.90 125.50H252.50M247.70 120.70V130.30M244.50 122.30L250.90 128.70M244.50 128.70L250.90 122.30M254.72 125.56H264.32M259.52 120.76V130.36M256.32 122.36L262.72 128.76M256.32 128.76L262.72 122.36M266.55 125.60H276.15M271.35 120.80V130.40M268.15 122.40L274.55 128.80M268.15 128.80L274.55 122.40M278.38 125.63H287.98M283.18 120.83V130.43M279.98 122.43L286.38 128.83M279.98 128.83L286.38 122.43M290.20 125.65H299.80M295.00 120.85V130.45M291.80 122.45L298.20 128.85M291.80 128.85L298.20 122.45M302.02 125.67H311.62M306.82 120.87V130.47M303.62 122.47L310.02 128.87M303.62 128.87L310.02 122.47M313.85 125.68H323.45M318.65 120.88V130.48M315.45 122.48L321.85 128.88M315.45 128.88L321.85 122.48M325.68 125.69H335.28M330.48 120.89V130.49M327.28 122.49L333.68 128.89M327.28 128.89L333.68 122.49M337.50 125.70H347.10M342.30 120.90V130.50M339.10 122.50L345.50 128.90M339.10 128.90L345.50 122.50M349.32 125.71H358.93M354.12 120.91V130.51M350.93 122.51L357.32 128.91M350.93 128.91L357.32 122.51M361.15 125.71H370.75M365.95 120.91V130.51M362.75 122.51L369.15 128.91M362.75 128.91L369.15 122.51M372.97 125.72H382.57M377.77 120.92V130.52M374.57 122.52L380.97 128.92M374.57 128.92L380.97 122.52M384.80 125.72H394.40M389.60 120.92V130.52M386.40 122.52L392.80 128.92M386.40 128.92L392.80 122.52M396.62 125.72H406.23M401.43 120.92V130.52M398.23 122.52L404.62 128.92M398.23 128.92L404.62 122.52M408.45 125.72H418.05M413.25 120.92V130.52M410.05 122.52L416.45 128.92M410.05 128.92L416.45 122.52M420.27 125.72H429.88M425.07 120.92V130.52M421.88 122.52L428.27 128.92M421.88 128.92L428.27 122.52M432.10 125.72H441.70M436.90 120.92V130.52M433.70 122.52L440.10 128.92M433.70 128.92L440.10 122.52M443.93 125.72H453.53M448.73 120.92V130.52M445.53 122.52L451.93 128.92M445.53 128.92L451.93 122.52M455.75 125.72H465.35M460.55 120.92V130.52M457.35 122.52L463.75 128.92M457.35 128.92L463.75 122.52M467.57 125.72H477.18M472.38 120.92V130.52M469.18 122.52L475.57 128.92M469.18 128.92L475.57 122.52M479.40 125.72H489.00M484.20 120.92V130.52M481.00 122.52L487.40 128.92M481.00 128.92L487.40 122.52M491.22 125.72H500.82M496.02 120.92V130.52M492.82 122.52L499.22 128.92M492.82 128.92L499.22 122.52M503.05 125.72H512.65M507.85 120.92V130.52M504.65 122.52L511.05 128.92M504.65 128.92L511.05 122.52M514.88 125.72H524.47M519.67 120.92V130.52M516.47 122.52L522.88 128.92M516.47 128.92L522.88 122.52M526.70 125.72H536.30M531.50 120.92V130.52M528.30 122.52L534.70 128.92M528.30 128.92L534.70 122.52" stroke="#0072BD"/><path d="M53.70 69.79H63.30M58.50 64.99V74.59M55.30 66.59L61.70 72.99M55.30 72.99L61.70 66.59M65.53 77.57H75.12M70.33 72.77V82.37M67.12 74.37L73.53 80.77M67.12 80.77L73.53 74.37M77.35 85.25H86.95M82.15 80.45V90.05M78.95 82.05L85.35 88.45M78.95 88.45L85.35 82.05M89.17 92.44H98.77M93.97 87.64V97.24M90.77 89.24L97.17 95.64M90.77 95.64L97.17 89.24M101.00 98.88H110.60M105.80 94.08V103.68M102.60 95.68L109.00 102.08M102.60 102.08L109.00 95.68M112.83 104.41H122.42M117.62 99.61V109.21M114.42 101.21L120.83 107.61M114.42 107.61L120.83 101.21M124.65 109.02H134.25M129.45 104.22V113.82M126.25 105.82L132.65 112.22M126.25 112.22L132.65 105.82M136.47 112.76H146.08M141.28 107.96V117.56M138.08 109.56L144.47 115.96M138.08 115.96L144.47 109.56M148.30 115.73H157.90M153.10 110.93V120.53M149.90 112.53L156.30 118.93M149.90 118.93L156.30 112.53M160.12 118.08H169.73M164.93 113.28V122.88M161.73 114.88L168.12 121.28M161.73 121.28L168.12 114.88M171.95 119.91H181.55M176.75 115.11V124.71M173.55 116.71L179.95 123.11M173.55 123.11L179.95 116.71M183.77 121.31H193.38M188.57 116.51V126.11M185.38 118.11L191.77 124.51M185.38 124.51L191.77 118.11M195.60 122.37H205.20M200.40 117.57V127.17M197.20 119.17L203.60 125.57M197.20 125.57L203.60 119.17M207.42 123.20H217.03M212.22 118.40V128.00M209.03 120.00L215.42 126.40M209.03 126.40L215.42 120.00M219.25 123.82H228.85M224.05 119.02V128.62M220.85 120.62L227.25 127.02M220.85 127.02L227.25 120.62M231.07 124.29H240.68M235.88 119.49V129.09M232.68 121.09L239.07 127.49M232.68 127.49L239.07 121.09M242.90 124.64H252.50M247.70 119.84V129.44M244.50 121.44L250.90 127.84M244.50 127.84L250.90 121.44M254.72 124.91H264.32M259.52 120.11V129.71M256.32 121.71L262.72 128.11M256.32 128.11L262.72 121.71M266.55 125.11H276.15M271.35 120.31V129.91M268.15 121.91L274.55 128.31M268.15 128.31L274.55 121.91M278.38 125.26H287.98M283.18 120.46V130.06M279.98 122.06L286.38 128.46M279.98 128.46L286.38 122.06M290.20 125.38H299.80M295.00 120.58V130.18M291.80 122.18L298.20 128.58M291.80 128.58L298.20 122.18M302.02 125.46H311.62M306.82 120.66V130.26M303.62 122.26L310.02 128.66M303.62 128.66L310.02 122.26M313.85 125.53H323.45M318.65 120.73V130.33M315.45 122.33L321.85 128.73M315.45 128.73L321.85 122.33M325.68 125.58H335.28M330.48 120.78V130.38M327.28 122.38L333.68 128.78M327.28 128.78L333.68 122.38M337.50 125.61H347.10M342.30 120.81V130.41M339.10 122.41L345.50 128.81M339.10 128.81L345.50 122.41M349.32 125.64H358.93M354.12 120.84V130.44M350.93 122.44L357.32 128.84M350.93 128.84L357.32 122.44M361.15 125.66H370.75M365.95 120.86V130.46M362.75 122.46L369.15 128.86M362.75 128.86L369.15 122.46M372.97 125.68H382.57M377.77 120.88V130.48M374.57 122.48L380.97 128.88M374.57 128.88L380.97 122.48M384.80 125.69H394.40M389.60 120.89V130.49M386.40 122.49L392.80 128.89M386.40 128.89L392.80 122.49M396.62 125.70H406.23M401.43 120.90V130.50M398.23 122.50L404.62 128.90M398.23 128.90L404.62 122.50M408.45 125.70H418.05M413.25 120.90V130.50M410.05 122.50L416.45 128.90M410.05 128.90L416.45 122.50M420.27 125.71H429.88M425.07 120.91V130.51M421.88 122.51L428.27 128.91M421.88 128.91L428.27 122.51M432.10 125.71H441.70M436.90 120.91V130.51M433.70 122.51L440.10 128.91M433.70 128.91L440.10 122.51M443.93 125.72H453.53M448.73 120.92V130.52M445.53 122.52L451.93 128.92M445.53 128.92L451.93 122.52M455.75 125.72H465.35M460.55 120.92V130.52M457.35 122.52L463.75 128.92M457.35 128.92L463.75 122.52M467.57 125.72H477.18M472.38 120.92V130.52M469.18 122.52L475.57 128.92M469.18 128.92L475.57 122.52M479.40 125.72H489.00M484.20 120.92V130.52M481.00 122.52L487.40 128.92M481.00 128.92L487.40 122.52M491.22 125.72H500.82M496.02 120.92V130.52M492.82 122.52L499.22 128.92M492.82 128.92L499.22 122.52M503.05 125.72H512.65M507.85 120.92V130.52M504.65 122.52L511.05 128.92M504.65 128.92L511.05 122.52M514.88 125.72H524.47M519.67 120.92V130.52M516.47 122.52L522.88 128.92M516.47 128.92L522.88 122.52M526.70 125.72H536.30M531.50 120.92V130.52M528.30 122.52L534.70 128.92M528.30 128.92L534.70 122.52" stroke="#D95319"/></g><g font-family="'Liberation Sans', Arial, Helvetica, sans-serif" font-size="15.0" fill="#262626"><text transform="translate(58.50 426.9) scale(1 1.03)" text-anchor="middle">0</text><text transform="translate(105.80 426.9) scale(1 1.03)" text-anchor="middle">1</text><text transform="translate(153.10 426.9) scale(1 1.03)" text-anchor="middle">2</text><text transform="translate(200.40 426.9) scale(1 1.03)" text-anchor="middle">3</text><text transform="translate(247.70 426.9) scale(1 1.03)" text-anchor="middle">4</text><text transform="translate(295.00 426.9) scale(1 1.03)" text-anchor="middle">5</text><text transform="translate(342.30 426.9) scale(1 1.03)" text-anchor="middle">6</text><text transform="translate(389.60 426.9) scale(1 1.03)" text-anchor="middle">7</text><text transform="translate(436.90 426.9) scale(1 1.03)" text-anchor="middle">8</text><text transform="translate(484.20 426.9) scale(1 1.03)" text-anchor="middle">9</text><text transform="translate(531.50 426.9) scale(1 1.03)" text-anchor="middle">10</text><text transform="translate(51.2 411.70) scale(1 1.03)" text-anchor="end">0</text><text transform="translate(51.2 374.41) scale(1 1.03)" text-anchor="end">0.1</text><text transform="translate(51.2 337.12) scale(1 1.03)" text-anchor="end">0.2</text><text transform="translate(51.2 299.83) scale(1 1.03)" text-anchor="end">0.3</text><text transform="translate(51.2 262.54) scale(1 1.03)" text-anchor="end">0.4</text><text transform="translate(51.2 225.25) scale(1 1.03)" text-anchor="end">0.5</text><text transform="translate(51.2 187.96) scale(1 1.03)" text-anchor="end">0.6</text><text transform="translate(51.2 150.67) scale(1 1.03)" text-anchor="end">0.7</text><text transform="translate(51.2 113.38) scale(1 1.03)" text-anchor="end">0.8</text><text transform="translate(51.2 76.09) scale(1 1.03)" text-anchor="end">0.9</text><text transform="translate(51.2 38.80) scale(1 1.03)" text-anchor="end">1</text></g><text transform="translate(295.0 25.1) scale(1 1.07)" text-anchor="middle" font-family="'Liberation Sans', Arial, Helvetica, sans-serif" font-size="15.8" fill="#262626">w=0.5</text><text transform="translate(295.4 443.7) scale(1.1 0.9)" text-anchor="middle" font-family="'Liberation Serif', 'Times New Roman', Times, serif" font-size="16" fill="#262626">time</text><text transform="translate(21.9 218.4) rotate(-90)" text-anchor="middle" font-family="'Liberation Sans', Arial, Helvetica, sans-serif" font-size="16" fill="#262626">Honest mining probability x</text><rect x="430.8" y="148.9" width="87.60" height="164.50" fill="#fff" stroke="#262626" stroke-width="1"/><g fill="none" stroke-width="1.1"><path d="M451.50 159.20H461.10M456.30 154.40V164.00M453.10 156.00L459.50 162.40M453.10 162.40L459.50 156.00" stroke="#0072BD"/><path d="M451.50 177.24H461.10M456.30 172.44V182.04M453.10 174.04L459.50 180.44M453.10 180.44L459.50 174.04" stroke="#D95319"/><path d="M451.50 195.28H461.10M456.30 190.48V200.08M453.10 192.08L459.50 198.48M453.10 198.48L459.50 192.08" stroke="#EDB120"/><path d="M451.50 213.32H461.10M456.30 208.52V218.12M453.10 210.12L459.50 216.52M453.10 216.52L459.50 210.12" stroke="#7E2F8E"/><path d="M451.50 231.36H461.10M456.30 226.56V236.16M453.10 228.16L459.50 234.56M453.10 234.56L459.50 228.16" stroke="#77AC30"/><path d="M451.50 249.40H461.10M456.30 244.60V254.20M453.10 246.20L459.50 252.60M453.10 252.60L459.50 246.20" stroke="#4DBEEE"/><path d="M451.50 267.44H461.10M456.30 262.64V272.24M453.10 264.24L459.50 270.64M453.10 270.64L459.50 264.24" stroke="#A2142F"/><path d="M451.50 285.48H461.10M456.30 280.68V290.28M453.10 282.28L459.50 288.68M453.10 288.68L459.50 282.28" stroke="#0072BD"/><path d="M451.50 303.52H461.10M456.30 298.72V308.32M453.10 300.32L459.50 306.72M453.10 306.72L459.50 300.32" stroke="#D95319"/></g><g font-family="'Liberation Sans', Arial, Helvetica, sans-serif" font-size="13.7" fill="#000"><text x="481.6" y="164.10">x=0.1</text><text x="481.6" y="182.14">x=0.2</text><text x="481.6" y="200.18">x=0.3</text><text x="481.6" y="218.22">x=0.4</text><text x="481.6" y="236.26">x=0.5</text><text x="481.6" y="254.30">x=0.6</text><text x="481.6" y="272.34">x=0.7</text><text x="481.6" y="290.38">x=0.8</text><text x="481.6" y="308.42">x=0.9</text></g></g></svg></body></html>
